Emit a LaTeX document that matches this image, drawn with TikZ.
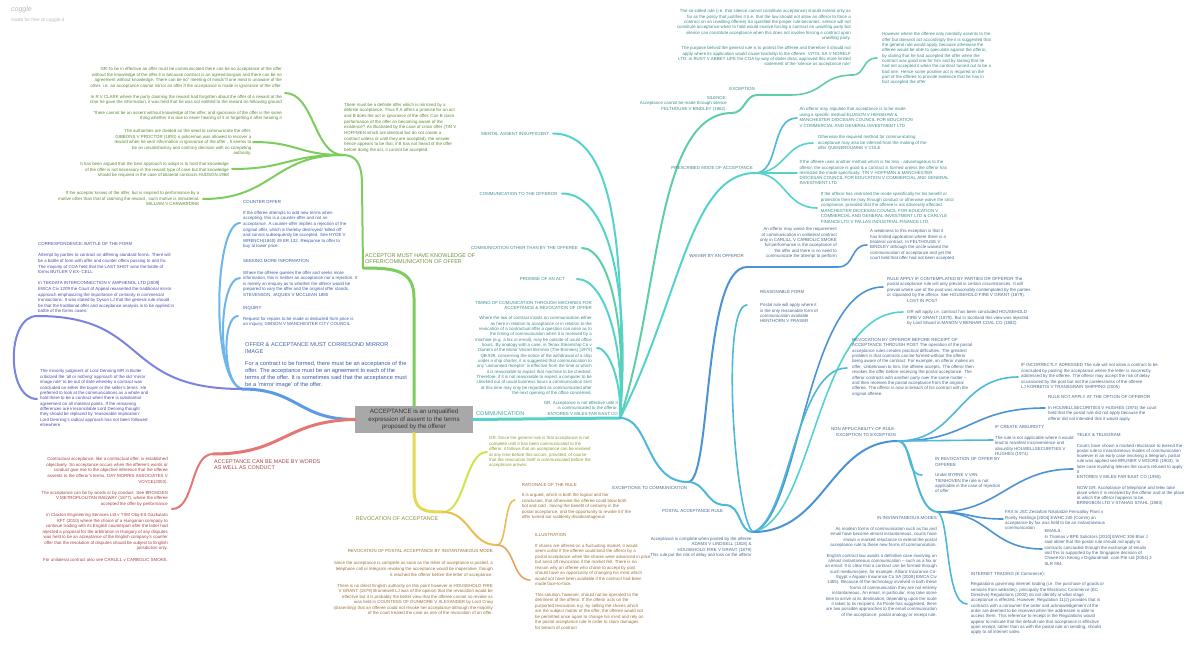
\documentclass[tikz,border=0pt]{standalone}
\usepackage{fontspec}
\setmainfont{Liberation Sans}
\definecolor{gline}{HTML}{7CCD5E}
\definecolor{gtext}{HTML}{5A8A34}
\definecolor{glab}{HTML}{6E8F3A}
\definecolor{bline}{HTML}{5B9BE3}
\definecolor{bline2}{HTML}{6DB5EA}
\definecolor{btext}{HTML}{3C5FA6}
\definecolor{pline}{HTML}{7A83E0}
\definecolor{ptext}{HTML}{4A4DA6}
\definecolor{rline}{HTML}{E47773}
\definecolor{rtext}{HTML}{A64444}
\definecolor{yline}{HTML}{E2DA52}
\definecolor{ygline}{HTML}{D3E34E}
\definecolor{oline}{HTML}{EBBE55}
\definecolor{o2line}{HTML}{E9A45C}
\definecolor{ytext}{HTML}{8E8C3A}
\definecolor{ygtext}{HTML}{8C9A30}
\definecolor{btn}{HTML}{9A7038}
\definecolor{tline}{HTML}{55D2CC}
\definecolor{tgline}{HTML}{5ECFA5}
\definecolor{ttext}{HTML}{3E8A8A}
\definecolor{tlab}{HTML}{35A3A3}
\definecolor{cline}{HTML}{4DB8DA}
\definecolor{dline}{HTML}{4C93D6}
\definecolor{ctext}{HTML}{47698F}
\definecolor{boxfill}{HTML}{A8A8A8}
\definecolor{boxtext}{HTML}{363636}
\definecolor{logo}{HTML}{B8B8B8}
\begin{document}
\begin{tikzpicture}[x=1pt,y=-1pt,
  tx/.style={inner sep=0pt, font=\fontsize{4.4}{5.45}\selectfont},
  txl/.style={tx, anchor=north west, align=left},
  txr/.style={tx, anchor=north east, align=right},
  lmain/.style={line width=3pt, line cap=round},
  lsub/.style={line width=2pt, line cap=round},
  lfine/.style={line width=1.6pt, line cap=round}]
\useasboundingbox (0,0) rectangle (1200,647);

% logo
\node[txl, text=logo, font=\fontsize{7}{8}\itshape] (logo) at (11,6) {coggle};
\node[txl, text=logo, font=\fontsize{4.8}{5.6}\selectfont] (made) at (11,18) {made for free at coggle.it};

% centre
\node[fill=boxfill, minimum width=118pt, minimum height=27pt, inner sep=0pt, align=center,
  font=\fontsize{6.2}{7.3}\selectfont, text=boxtext] (ctr) at (414,419.5)
  {ACCEPTANCE is an unqualified\\ expression of assent to the terms\\ proposed by the offerer};

% ---------------- coordinates
\coordinate (gA) at (363,268);
\coordinate (gJ) at (343,155);
\coordinate (g1a) at (285,93);
\coordinate (g2a) at (253,142);
\coordinate (g3a) at (232,169);
\coordinate (g4a) at (203,199);
\coordinate (bO) at (242,389);
\coordinate (bCO) at (240,223);
\coordinate (bSK) at (240,278);
\coordinate (bIQ) at (238,316);
\coordinate (bCR) at (37,316);
\coordinate (bMN) at (37,399);
\coordinate (rJ) at (213,454);
\coordinate (rT) at (172,509);
\coordinate (yJ1) at (443,512);
\coordinate (yJ2) at (497,545);
\coordinate (yGR) at (487,452);
\coordinate (yRA) at (515,500);
\coordinate (yIL) at (530,580);
\coordinate (tJ) at (620,418);
\coordinate (tMA) at (553,133.5);
\coordinate (tCO) at (562,193.5);
\coordinate (tOT) at (582,248);
\coordinate (tPR) at (577,279);
\coordinate (tTI) at (597,348);
\coordinate (tSI) at (732,113);
\coordinate (tEX) at (757,95);
\coordinate (tSC) at (853,75);
\coordinate (tHW) at (877,58);
\coordinate (tPM) at (755,173);
\coordinate (tP1) at (797,118);
\coordinate (tP2) at (813,143);
\coordinate (tP3) at (797,173);
\coordinate (tP4) at (817,208);
\coordinate (eX) at (688,482);
\coordinate (wJ) at (747,267);
\coordinate (wE) at (838,267);
\coordinate (wK) at (867,245);
\coordinate (pA) at (725,505);
\coordinate (pJ) at (753,532);
\coordinate (pRF) at (747,305);
\coordinate (pRA) at (883,287);
\coordinate (pLP) at (903,312);
\coordinate (pRV) at (847,368);
\coordinate (nJ) at (898,441);
\coordinate (nIA) at (1018,377);
\coordinate (nRN) at (1045,408);
\coordinate (nAB) at (993,440);
\coordinate (nRO) at (922,475);
\coordinate (mJ) at (938,512);
\coordinate (mTX) at (1073,469);
\coordinate (mFX) at (1003,519);
\coordinate (mEM) at (1042,549);
\coordinate (mIT) at (967,604);

% ---------------- connectors
% green
\draw[gline, lmain] (ctr.north) -- (414,298) .. controls (414,270) and (395,268) .. (gA);
\draw[gline, lsub] (gA) -- (362,185) .. controls (362,162) and (355,155) .. (gJ);
\draw[gline, lsub] (gJ) .. controls (314,155) and (314,93) .. (g1a);
\draw[gline, lsub] (gJ) .. controls (298,155) and (298,142) .. (g2a);
\draw[gline, lsub] (gJ) .. controls (287,155) and (287,169) .. (g3a);
\draw[gline, lsub] (gJ) .. controls (273,155) and (273,199) .. (g4a);
% blue
\draw[bline, lmain] (ctr.west) .. controls (298,419.5) and (298,389) .. (bO);
\draw[bline2, lsub] (bO) .. controls (210,380) and (214,223) .. (bCO);
\draw[bline2, lsub] (bO) .. controls (216,382) and (218,278) .. (bSK);
\draw[bline2, lsub] (bO) .. controls (222,384) and (222,316) .. (bIQ);
\draw[pline, lsub] (bO) .. controls (120,389) and (150,316) .. (bCR);
\draw[pline, lsub] (bCR) .. controls (6,316) and (6,399) .. (bMN);
% red
\draw[rline, lmain] (ctr.west) .. controls (284,421) and (284,454) .. (rJ);
\draw[rline, lsub] (rJ) .. controls (190,454) and (195,509) .. (rT);
% yellow
\draw[yline, lmain] (ctr.south) -- (414,488) .. controls (414,510) and (422,512) .. (yJ1);
\draw[ygline, lsub] (yJ1) .. controls (465,512) and (465,452) .. (yGR);
\draw[oline, lsub] (yJ1) .. controls (470,512) and (470,545) .. (yJ2);
\draw[oline, lfine] (yJ2) .. controls (507,545) and (504,500) .. (yRA);
\draw[o2line, lfine] (yJ2) .. controls (515,545) and (512,580) .. (yIL);
% teal
\draw[tline, lmain] (ctr.east) -- (tJ);
\draw[tline, lsub] (tJ) .. controls (625,250) and (615,133.5) .. (tMA);
\draw[tline, lsub] (tJ) .. controls (630,300) and (612,193.5) .. (tCO);
\draw[tgline, lsub] (tJ) .. controls (627,330) and (610,248) .. (tOT);
\draw[tline, lsub] (tJ) .. controls (625,350) and (606,279) .. (tPR);
\draw[tline, lsub] (tJ) .. controls (622,385) and (610,348) .. (tTI);
\draw[tgline, lsub] (tJ) .. controls (660,300) and (655,113) .. (tSI);
\draw[tgline, lsub] (tSI) .. controls (745,113) and (745,95) .. (tEX);
\draw[tgline, lfine] (tEX) -- (790,95) .. controls (825,95) and (820,75) .. (tSC);
\draw[tgline, lfine] (tSC) .. controls (865,75) and (862,58) .. (tHW);
\draw[tline, lsub] (tJ) .. controls (680,300) and (690,173) .. (tPM);
\draw[cline, lfine] (tPM) .. controls (780,173) and (770,118) .. (tP1);
\draw[tline, lfine] (tPM) .. controls (785,173) and (785,143) .. (tP2);
\draw[tline, lfine] (tPM) -- (tP3);
\draw[tline, lfine] (tPM) .. controls (785,173) and (785,208) .. (tP4);
\draw[cline, lsub] (tJ) .. controls (650,418) and (645,482) .. (eX);
\draw[dline, lsub] (eX) .. controls (712,482) and (702,267) .. (wJ);
\draw[dline, lsub] (wJ) -- (wE);
\draw[dline, lfine] (wE) .. controls (855,267) and (850,245) .. (wK);
\draw[cline, lsub] (eX) .. controls (706,482) and (706,505) .. (pA);
\draw[cline, lsub] (pA) .. controls (742,505) and (738,532) .. (pJ);
\draw[cline, lfine] (pJ) .. controls (735,520) and (720,305) .. (pRF);
\draw[dline, lfine] (pJ) .. controls (800,520) and (805,287) .. (pRA);
\draw[tline, lfine] (pJ) .. controls (815,520) and (815,312) .. (pLP);
\draw[cline, lfine] (pJ) .. controls (790,520) and (795,368) .. (pRV);
\draw[dline, lsub] (pJ) .. controls (825,532) and (830,441) .. (nJ);
\draw[cline, lfine] (nJ) .. controls (958,441) and (958,377) .. (nIA);
\draw[dline, lfine] (nJ) .. controls (970,441) and (970,408) .. (nRN);
\draw[cline, lfine] (nJ) .. controls (945,441) and (945,440) .. (nAB);
\draw[cline, lfine] (nJ) .. controls (912,441) and (905,475) .. (nRO);
\draw[cline, lsub] (nJ) .. controls (914,441) and (914,512) .. (mJ);
\draw[dline, lfine] (mJ) .. controls (1000,512) and (1010,469) .. (mTX);
\draw[dline, lfine] (mJ) .. controls (970,512) and (970,519) .. (mFX);
\draw[dline, lfine] (mJ) .. controls (990,512) and (990,549) .. (mEM);
\draw[cline, lfine] (mJ) .. controls (950,520) and (945,604) .. (mIT);

% ---------------- green texts
\node[txr, text=gtext] (g1) at (282,67.4) {GR:To be in effective an offer must be communicated there can be no acceptance of the offer\\ without the knowledge of the offer.It is because contract is an agreed bargain and there can be no\\ agreement without knowledge. There can be no" meeting of minds"if one mind is unaware of the\\ other. i.e. an acceptance cannot mirror an offer if the acceptance is made in ignorance of the offer.\\[5.45pt] In R V CLARK where the party claiming the reward had forgotten about the offer of a reward at the\\ time he gave the information, it was held that he was not entitled to the reward on following ground\\[5.45pt] "there cannot be an assent without knowledge of the offer; and ignorance of the offer is the same\\ thing whether it is due to never hearing of it or forgetting it after hearing it};
\node[txr, text=gtext] (g2) at (251.5,129.4) {The authorities are divided on the need to communicate the offer.\\ GIBBONS V PROCTOR (1891) a policeman was allowed to recover a\\ reward when he sent information in ignorance of the offer . It seems to\\ be an unsatisfactory and contrary decision with no competing\\ authority.};
\node[txr, text=gtext] (g3) at (229,162.4) {It has been argued that the best approach to adopt is to hold that knowledge\\ of the offer is not necessary in the reward type of case but that knowledge\\ should be required in the case of bilateral contracts HUDSON,1968};
\node[txr, text=gtext] (g4) at (199.5,191.4) {If the acceptor knows of the offer, but is inspired to performance by a\\ motive other than that of claiming the reward , such motive is immaterial.\\ WILLIAM V CARWARDINE};
\node[txl, text=gtext, font=\fontsize{4.4}{5.67}\selectfont] (g5) at (344,102.7) {There must be a definite offer which is mirrored by a\\ definite acceptance. Thus If A offers a promise for an act\\ and B does the act in ignorance of the offer, Can B claim\\ performance of the offer on becoming aware of the\\ existence? As illustrated by the case of cross offer (TIN V\\ HOFFMEN which are identical but do not create a\\ contract unless or until they are accepted), the answer\\ hence appears to be that, if B has not heard of the offer\\ before doing the act, it cannot be accepted.};
\node[txl, text=glab, font=\fontsize{5.5}{6.7}\selectfont] (gL) at (365,253) {ACCEPTOR MUST HAVE KNOWLEDGE OF\\ OFFER/COMMUNICATION OF OFFER};

% ---------------- blue texts
\node[txl, text=btext] (bCOl) at (243,200.3) {COUNTER OFFER};
\node[txl, text=btext, font=\fontsize{4.4}{5.55}\selectfont] (bCOt) at (243,211) {If the offeree attempts to add new terms when\\ accepting, this is a counter-offer and not an\\ acceptance. A counter-offer implies a rejection of the\\ original offer, which is thereby destroyed/ 'killed off'\\ and cannot subsequently be accepted. See HYDE V\\ WRENCH(1840) 49 ER 132. Response to offer to\\ buy at lower price.};
\node[txl, text=btext] (bSKl) at (243,259.3) {SEEKING MORE INFORMATION};
\node[txl, text=btext, font=\fontsize{4.4}{5.5}\selectfont] (bSKt) at (243,271) {Where the offeree queries the offer and seeks more\\ information, this is neither an acceptance nor a rejection. It\\ is merely an enquiry as to whether the offeror would be\\ prepared to vary the offer and the original offer stands.\\ STEVENSON, JAQUES V MCCLEAN 1880};
\node[txl, text=btext] (bIQl) at (243,306) {INQUIRY};
\node[txl, text=btext] (bIQt) at (243,317) {Request for repairs to be made or deducted from price is\\ an inquiry; GIBSON V MANCHESTER CITY COUNCIL};
\node[txl, text=btext, font=\fontsize{5.6}{6.7}\selectfont] (bMl) at (245,342.3) {OFFER \& ACCEPTANCE MUST CORRESOND MIRROR\\ IMAGE};
\node[txl, text=btext, font=\fontsize{5.7}{6.85}\selectfont] (bMt) at (245,361.5) {For a contract to be formed, there must be an acceptance of the\\ offer. The acceptance must be an agreement to each of the\\ terms of the offer. It is sometimes said that the acceptance must\\ be a 'mirror image' of the offer.};

% ---------------- purple texts
\node[txl, text=ptext] (pCl) at (38,242.6) {CORRESPONDENCE: BATTLE OF THE FORM};
\node[txl, text=ptext, font=\fontsize{4.4}{5.6}\selectfont] (pCt) at (38,253.6) {Attempt by parties to contract on differing standard forms. There will\\ be a battle of form with offer and counter offers passing to and fro.\\ The majority of COA held that the LAST SHOT wins the battle of\\ forms BUTLER V EX- CELL\\[5.6pt] In TEKDATA INTERCONNECTION V AMPHENOL LTD [2009]\\ EWCA Civ 1209 the Court of Appeal reasserted the traditional mirror\\ approach emphasizing the importance of certainty in commercial\\ transactions. It was stated by Dyson LJ that the general rule should\\ be that the traditional offer and acceptance analysis is to be applied in\\ battle of the forms cases.};
\node[txl, text=ptext, font=\fontsize{4.4}{5.37}\selectfont] (pMt) at (40,369.6) {The minority judgment of Lord Denning MR in Butler\\ criticized the 'all or nothing' approach of the old 'mirror\\ image rule' to be out of date whereby a contract was\\ concluded on either the buyer or the seller's terms. He\\ preferred to look at the communications as a whole and\\ hold there to be a contract when there is substantial\\ agreement on all material points. If the remaining\\ differences are irreconcilable Lord Denning thought\\ they should be replaced by 'reasonable implication'.\\ Lord Denning's radical approach has not been followed\\ elsewhere};

% ---------------- red texts
\node[txl, text=rtext, font=\fontsize{5.4}{6.3}\selectfont] (rL) at (214,459.1) {ACCEPTANCE CAN BE MADE BY WORDS\\ AS WELL AS CONDUCT};
\node[txr, text=rtext, font=\fontsize{4.4}{5.58}\selectfont] (rTx) at (168,457.3) {Contractual acceptance, like a contractual offer, is established\\ objectively. So acceptance occurs when the offeree's words or\\ conduct give rise to the objective inference that the offeree\\ assents to the offeror's terms. DAY MORRIS ASSOCIATES V\\ VOYCE(2003).\\[5.58pt] The acceptance can be by words or by conduct. See BROGDEN\\ V METROPLOLITAN RAILWAY (1877), where the offeree\\ accepted the offer by performance\\[5.58pt] In Claxton Engineering Services Ltd v TXM Olaj-ES Gazkutato\\ KFT (2010) where the choice of a Hungarian company to\\ continue trading with its English counterpart after the latter had\\ rejected a proposal for the arbitration in Hungary of any disputes\\ was held to be an acceptance of the English company's counter\\ offer that the resolution of disputes should be subject to English\\ jurisdiction only.\\[5.58pt] For unilateral contract also see CARLILL v CARBOLIC SMOKE.};

% ---------------- yellow texts
\node[txl, text=ytext, font=\fontsize{5.4}{6.3}\selectfont] (yL) at (355.7,516.8) {REVOCATION OF ACCEPTANCE};
\node[txl, text=ygtext] (yGRt) at (489,436.3) {GR: Since the general rule is that acceptance is not\\ complete until it has been communicated to the\\ offeror, it follows that an acceptance can be revoked\\ at any time before this occurs, provided, of course\\ that the revocation itself is communicated before the\\ acceptance arrives.};
\node[txl, text=btn] (yRAl) at (521.7,483) {RATIONALE OF THE RULE};
\node[txl, text=btn] (yRAt) at (521.7,493.6) {It is argued, which is both the logical and fair\\ conclusion, that otherwise the offeree could blow both\\ hot and cold , having the benefit of certainty in the\\ postal acceptance, and the opportunity to revoke it if the\\ offer turned out suddenly disadvantageous};
\node[txl, text=btn] (yILl) at (535,533.6) {ILLUSTRATION};
\node[txl, text=btn] (yILt) at (535,544) {If shares are offered on a fluctuating market, it would\\ seem unfair if the offeree could bind the offeror by a\\ postal acceptance when the shares were advanced in price ,\\ but send off revocation if the market fell. There is no\\ reason why an offeree who chose to accept by post\\ should have an opportunity of changing his mind which\\ would not have been available if the contract had been\\ made face-to-face.\\[5.45pt] This solution, however, should not be operated to the\\ detriment of the offeror. If the offeror acts on the\\ purported revocation e.g. by selling the shares which\\ are the subject matter of the offer, the offeree would not\\ be permitted once again to change his mind and rely on\\ the postal acceptance rule in order to claim damages\\ for breach of contract};
\node[txr, text=btn] (yPMl) at (493,549.6) {REVOCATION OF POSTAL ACCEPTANCE BY INSTANTANEOUS MODE};
\node[txr, text=btn, font=\fontsize{4.4}{5.55}\selectfont] (yPMt) at (493,561.6) {Since the acceptance is complete as soon as the letter of acceptance is posted, a\\ telephone call or telegram revoking the acceptance would be inoperative, though\\ it reached the offeror before the letter of acceptance.\\[5.55pt] There is no direct English authority on this point however in HOUSEHOLD FIRE\\ V GRANT (1879) Bramewell LJ was of the opinion that the revocation would be\\ effective but it is probably the better view that the offeree cannot so revoke as\\ was held in COUNTESS OF DUNMORE V ALEXANDER by Lord Craig\\ (dissenting) that an offeree could not revoke her acceptance although the majority\\ of the court treated the case as one of the revocation of an offer.};

% ---------------- teal texts
\node[txl, text=tlab, font=\fontsize{5.6}{6.7}\selectfont] (tL) at (476,411.3) {COMMUNICATION};
\node[txr, text=ttext] (tGR) at (618,401) {GR. Acceptance is not effective until it\\ is communicated to the offeror.\\ ENTORES V MILES FAR EAST CO};
\node[txr, text=ttext] (tMAl) at (549.5,132) {MENTAL ASSENT INSUFFICIENT};
\node[txr, text=ttext] (tCOl) at (557.7,192) {COMMUNICATION TO THE OFFEROR};
\node[txr, text=ttext] (tOTl) at (578,246) {COMMUNICATION OTHER THAN BY THE OFFEREE};
\node[txr, text=ttext] (tPRl) at (565,277) {PROMISE OF AN ACT};
\node[txr, text=ttext, font=\fontsize{4.4}{5.0}\selectfont] (tTIl) at (592,301.6) {TIMING OF COMUNICATION THROUGH MACHINES FOR\\ ACCEPTANCE \& REVOCATION OF OFFER};
\node[txr, text=ttext, font=\fontsize{4.4}{5.33}\selectfont] (tTIt) at (592,316.6) {Where the law of contract insists on communication either\\ as here in relation to acceptance or in relation to the\\ revocation of a contractual offer a question can arise as to\\ the timing of communication when it is received by a\\ machine (e.g. a fax or email), may be outside of usual office\\ hours. By analogy with a case, in Tenax Steamship Co v\\ Owners of the Motor Vessel Brimnes (The Brimnes) [1975]\\ QB 929, concerning the notice of the withdrawal of a ship\\ under a ship charter, it is suggested that communication to\\ any 'unmanned receptor' is effective from the time at which\\ it is reasonable to expect that machine to be checked.\\ Therefore, if it is not reasonable to expect a computer to be\\ checked out of usual business hours a communication sent\\ at this time may only be regarded as communicated after\\ the next opening of the office concerned.};
\node[txr, text=ttext] (tSIt) at (727,96) {SILENCE:\\ Acceptance cannot be made through silence\\ FELTHOUSE V BINDLEY (1862).};
\node[txr, text=ttext] (tEXl) at (755,87.6) {EXCEPTION};
\node[txr, text=ttext, font=\fontsize{4.4}{5.33}\selectfont] (tSCt) at (851,9.3) {The so-called rule (i.e. that silence cannot constitute acceptance) should extend only as\\ far as the policy that justifies it (i.e. that the law should not allow an offeror to force a\\ contract on an unwilling offeree).So qualified the proper rule becomes: silence will not\\ constitute acceptance when to hold would involve forcing a contract on unwilling party but\\ silence can constitute acceptance when this does not involve forcing a contract upon\\ unwilling party.\\[5.33pt] The purpose behind the general rule is to protect the offeree and therefore it should not\\ apply where its application would cause hardship to the offeree. VITOL SA V NORELF\\ LTD. In RUST V ABBEY LIFE the COA by way of obiter dicta, approved this more limited\\ statement of the 'silence as acceptance rule'};
\node[txl, text=ttext, font=\fontsize{4.4}{5.33}\selectfont] (tHWt) at (882,32.6) {However where the offeree only mentally assents to the\\ offer but doesnot act accordingly the it is suggested that\\ the general rule would apply, because otherwise the\\ offeree would be able to speculate against the offeror,\\ by stating that he had accepted the offer when the\\ contract was good one for him and by stating that he\\ had not accepted it when the contract turned out to be a\\ bad one. Hence some positive act is required on the\\ part of the offeree to provide evidence that he has in\\ fact accepted the offer};
\node[txr, text=ttext] (tPMl) at (753,166) {PRESCRIBED MODE OF ACCEPTANCE};
\node[txl, text=ttext] (tP1t) at (799.3,107.6) {An offeror may stipulate that acceptance is to be made\\ using a specific method ELIASON V HENSHAW \&\\ MANCHESTER DIOCESAN COUNCIL FOR EDUCATION\\ V COMMERCIAL AND GENERAL INVESTMENT LTD};
\node[txl, text=ttext] (tP2t) at (817.7,135.6) {Otherwise the required method for communicating\\ acceptance may also be inferred from the making of the\\ offer QUENERDUAINE V COLE};
\node[txl, text=ttext, font=\fontsize{4.4}{5.2}\selectfont] (tP3t) at (799.3,160.6) {If the offeree uses another method which is No less - advantageous to the\\ offeror, the acceptance is good \& a contract is formed unless the offeror has\\ restricted the mode specifically. TIN V HOFFMAN \& MANCHESTER\\ DIOCESAN COUNCIL FOR EDUCATION V COMMERCIAL AND GENERAL\\ INVESTMENT LTD};
\node[txl, text=ttext] (tP4t) at (820.7,192.6) {If the offeror has restricted the mode specifically for his benefit or\\ protection then he may through conduct or otherwise waive the strict\\ compliance, provided that the offeree is not adversely affected.\\ MANCHESTER DIOCESAN COUNCIL FOR EDUCATION V\\ COMMERCIAL AND GENERAL INVESTMENT LTD \& CARLYLE\\ FINANCE LTD V PALLAS INDUSTRIAL FINANCE LTD.};

% ---------------- exceptions / postal cluster
\node[txr, text=ctext] (wL) at (744,254.3) {WAIVER BY AN OFFEROR};
\node[txr, text=ctext, font=\fontsize{4.4}{5.33}\selectfont] (wT) at (837,227.6) {An offeror may waive the requirement\\ of communication in unilateral contract\\ only in CARLILL V CARBOLIC SMOKE\\ full performance is the acceptance of\\ the offer and there is no need to\\ communicate the attempt to perform};
\node[txl, text=ctext, font=\fontsize{4.4}{5.4}\selectfont] (wK2) at (870,229.3) {A weakness to this exception is that it\\ has limited application where there is a\\ bilateral contract. In FELTHOUSE V\\ BINDLEY although the uncle waived the\\ communication of acceptance and yet the\\ court held that offer had not been accepted};
\node[txr, text=ctext] (eXl) at (687.3,486) {EXCEPTIONS TO COMMUNICATION};
\node[txr, text=ctext] (pAl) at (723.3,509.3) {POSTAL ACCEPTANCE RULE};
\node[txr, text=ctext, font=\fontsize{4.4}{5.33}\selectfont] (pJt) at (751.7,537) {Acceptance is complete when posted by the offeree\\ ADAMS V LINDSELL (1818) \&\\ HOUSEHOLD FIRE V GRANT (1879)\\ This rule put the risk of delay and loss on the offeror};
\node[txl, text=ctext] (pRFl) at (760,290.6) {REASONABLE FORM};
\node[txl, text=ctext, font=\fontsize{4.4}{5.25}\selectfont] (pRFt) at (760,303.6) {Postal rule will apply where it\\ is the only reasonable form of\\ communication available\\ HENTHORN V FRASER};
\node[txl, text=ctext, font=\fontsize{4.4}{5.4}\selectfont] (pRAt) at (887,277) {RULE APPLY IF CONTEMPLATED BY PARTIES OR OFFEROR The\\ postal acceptance rule will only prevail in certain circumstances. It will\\ prevail where use of the post was reasonably contemplated by the parties\\ or stipulated by the offeror. See HOUSEHOLD FIRE V GRANT (1879).};
\node[txl, text=ctext] (pLPl) at (907,299.3) {LOST IN POST};
\node[txl, text=ctext, font=\fontsize{4.4}{5.35}\selectfont] (pLPt) at (907,310.3) {GR will apply i.e. contract has been concluded HOUSEHOLD\\ FIRE V GRANT (1879). But in Scotland this view was rejected\\ by Lord Shand in MASON V BENHAR COAL CO (1882)};
\node[txl, text=ctext, font=\fontsize{4.4}{5.35}\selectfont] (pRVt) at (852,338.3) {REVOCATION BY OFFEROR BEFORE RECEIPT OF\\ ACCEPTANCE THROUGH POST The operation of the postal\\ acceptance rules creates practical difficulties. The greatest\\ problem is that contracts can be formed without the offeror\\ being aware of the contract. For example, an offeror makes an\\ offer. Unbeknown to him, the offeree accepts. The offeror then\\ revokes the offer before receiving the postal acceptance. The\\ offeror contracts with another party over the same matter --\\ and then receives the postal acceptance from the original\\ offeree. The offeror is now in breach of his contract with the\\ original offeree.};
\node[txr, text=ctext, font=\fontsize{4.4}{6}\selectfont] (nJl) at (896,427) {NON APPLICABILITY OF RULE-\\ EXCEPTION TO EXCEPTION};
\node[txl, text=ctext, font=\fontsize{4.4}{5.35}\selectfont] (nIAt) at (1021,363.6) {IF INCORRECTLY ADRESSED The rule will not allow a contract to be\\ concluded by posting the acceptance where the letter is incorrectly\\ addressed by the offeree. The offeror may accept the risk of delay\\ occasioned by the post but not the carelessness of the offeree\\ LJ KORBETIS V TRANSGRAIN SHIPPING (2005)};
\node[txl, text=ctext] (nRNl) at (1048,395.3) {RULE NOT APPLY AT THE OPTION OF OFFEROR};
\node[txl, text=ctext, font=\fontsize{4.4}{5.3}\selectfont] (nRNt) at (1048,406.3) {In HOLWELLSECURITIES V HUGHES (1974) the court\\ held that the postal rule did not apply because the\\ offeror did not intended that it would apply.};
\node[txl, text=ctext] (nABl) at (995,425.3) {IF CREATE ABSURDITY};
\node[txl, text=ctext, font=\fontsize{4.4}{5.33}\selectfont] (nABt) at (995,436) {The rule is not applicable where it would\\ lead to manifest inconvenience and\\ absurdity HOLWELLSECURITIES V\\ HUGHES (1974)};
\node[txl, text=ctext, font=\fontsize{4.4}{5.35}\selectfont] (nROl) at (935,457.6) {IN REVOCATION OF OFFER BY\\ OFFEREE};
\node[txl, text=ctext, font=\fontsize{4.4}{5.33}\selectfont] (nROt) at (935,473.6) {Under BYRNE V VAN\\ TIENHOVEN the rule is not\\ applicable in the case of rejection\\ of offer};
\node[txr, text=ctext] (mJl) at (937,516.3) {IN INSTANTANEOUS MODES};
\node[txr, text=ctext, font=\fontsize{4.4}{5.36}\selectfont] (mJt) at (937,527) {As modern forms of communication such as fax and\\ email have become almost instantaneous, courts have\\ shown a marked reluctance to extend the postal\\ acceptance rule to these new forms of communication.\\[5.36pt] English contract law awaits a definitive case involving an\\ almost instantaneous communication -- such as a fax or\\ an email. It is clear that a contract can be formed through\\ such mediums(see, for example, Allianz Insurance Co-\\ Egypt v Aigaion Insurance Co SA [2008] EWCA Civ\\ 1455). Because of the technology involved in both these\\ forms of communication they are not entirely\\ instantaneous. An email, in particular, may take some\\ time to arrive at its destination, depending upon the route\\ it takes to its recipient. As Poole has suggested, there\\ are two possible approaches to the email communication\\ of the acceptance: postal analogy or receipt rule.};
\node[txl, text=ctext, font=\fontsize{4.4}{5.25}\selectfont] (mTXt) at (1076.7,433.3) {TELEX \& TELEGRAM:\\[5.25pt] Courts have shown a marked reluctance to extend the\\ postal rule to instantaneous modes of communication\\ however in an early case involving a telegram, postal\\ rule was applied see BRUNER V MOORE (1903). In\\ later case involving telexes the courts refused to apply\\ it\\ ENTORES V MILES FAR EAST CO (1955)\\[5.25pt] NOW GR: Acceptance of telephone and telex take\\ place when it is received by the offeror and at the place\\ at which the offeror happens to be.\\ BRINKIBON LTD V STAHAG STAHL (1983)};
\node[txl, text=ctext, font=\fontsize{4.4}{5.33}\selectfont] (mFXt) at (1005,510.3) {FAX:In JSC Zestafoni Nikoladze Ferroalloy Plant v\\ Romly Holdings [2004] EWHC 245 (Comm) an\\ acceptance by fax was held to be an instantaneous\\ communication};
\node[txl, text=ctext, font=\fontsize{4.4}{5.4}\selectfont] (mEMt) at (1044.3,529.6) {EMAILS:\\ In Thomas v BPE Solicitors [2010] EWHC 306 Blair J\\ said obiter that the postal rule should not apply to\\ contracts concluded through the exchange of emails\\ and this is supported by the Singapore decision of\\ Chwee Kin Keong v Digilandmall. com Pte Ltd [2004] 2\\ SLR 594.};
\node[txl, text=ctext, font=\fontsize{4.4}{5.3}\selectfont] (mITt) at (970.7,572) {INTERNET TRADING (E Commerce):\\[5.3pt] Regulations governing internet trading (i.e. the purchase of goods or\\ services from websites), principally the Electronic Commerce (EC\\ Directive) Regulations (2002) do not identify at what stage\\ acceptance is effected. However, Regulation 11(2) provides that in\\ contracts with a consumer the order and acknowledgement of the\\ order are deemed to be received when the addressee is able to\\ access them. This reference to receipt in the Regulations would\\ appear to indicate that the default rule that acceptance is effective\\ upon receipt, rather than as with the postal rule on sending, should\\ apply to all internet sales.};
\end{tikzpicture}
\end{document}
